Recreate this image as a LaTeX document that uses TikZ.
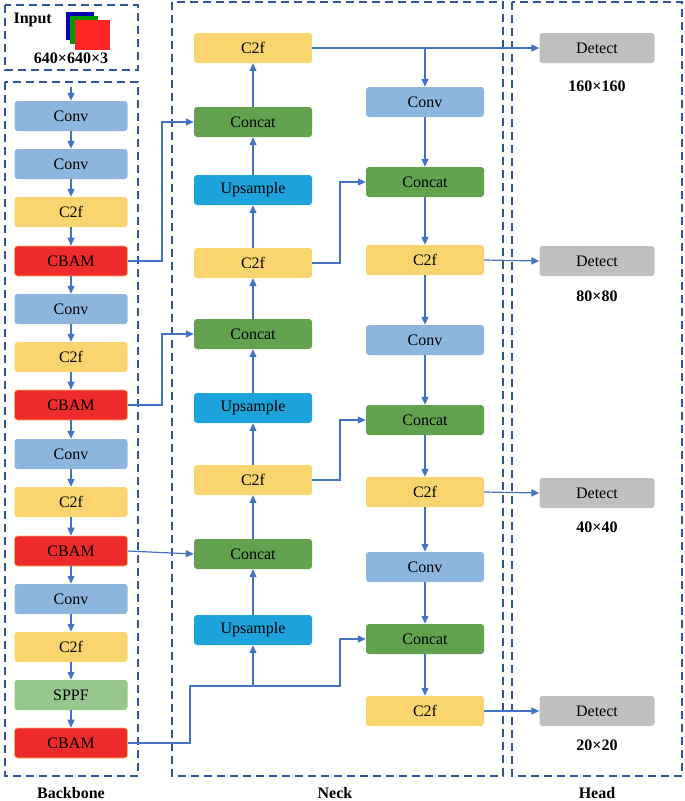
\documentclass[tikz,border=0pt]{standalone}
\usepackage{fontspec}
\setmainfont{Liberation Serif}
\usetikzlibrary{positioning, arrows.meta}
\definecolor{convc}{HTML}{8DB6DE}
\definecolor{c2fc}{HTML}{FAD56F}
\definecolor{cbamc}{HTML}{EE2B2B}
\definecolor{catc}{HTML}{62A24F}
\definecolor{upc}{HTML}{1DA2DC}
\definecolor{sppfc}{HTML}{96C78D}
\definecolor{detc}{HTML}{BFBFBF}
\definecolor{linec}{HTML}{4472C4}
\definecolor{dashc}{HTML}{2F5597}
\tikzset{blk/.style={rounded corners=3pt,minimum height=30pt,inner sep=0pt,font=\fontsize{16}{18}\selectfont},
         bb/.style={blk,minimum width=113pt},
         nk/.style={blk,minimum width=118pt},
         conv/.style={fill=convc},
         ctwof/.style={fill=c2fc},
         cbam/.style={fill=cbamc,draw=orange!60,line width=0.6pt},
         cat/.style={fill=catc},
         ups/.style={fill=upc},
         sppf/.style={fill=sppfc},
         det/.style={blk,fill=detc,minimum width=115pt},
         frame/.style={draw=dashc,dashed,line width=1.6pt,dash pattern=on 8pt off 5pt},
         lab/.style={font=\bfseries\fontsize{16}{18}\selectfont},
         arr/.style={-{Triangle[length=8pt,width=7pt]},draw=linec,line width=1.2pt},
         ln/.style={draw=linec,line width=1.2pt},
        }
\begin{document}
\begin{tikzpicture}[x=1pt,y=-1pt]
        \useasboundingbox (0,0) rectangle (685,801);
        % frames
        \draw[frame](5,5)rectangle(138,70);
        \draw[frame](5,82)rectangle(138,776);
        \draw[frame](172,2)rectangle(503,776);
        \draw[frame](512,2)rectangle(682,776);

        % input
        \node[lab,anchor=west](inlab)at(10,20){Input};
        \fill[blue!70!black](66,12)rectangle(94,40);
        \fill[green!60!black](70,16)rectangle(98,44);
        \fill[red!85](75,20)rectangle(110,50);
        \node[lab](insize)at(71,58){640×640×3};
        \coordinate(top)at(71,87);

        % backbone
        \node[bb,conv](b1)at(71,116){Conv};
        \node[bb,conv](b2)at(71,164){Conv};
        \node[bb,ctwof](b3)at(71,212){C2f};
        \node[bb,cbam](b4)at(71,261){CBAM};
        \node[bb,conv](b5)at(71,309){Conv};
        \node[bb,ctwof](b6)at(71,357){C2f};
        \node[bb,cbam](b7)at(71,405){CBAM};
        \node[bb,conv](b8)at(71,454){Conv};
        \node[bb,ctwof](b9)at(71,502){C2f};
        \node[bb,cbam](b10)at(71,551){CBAM};
        \node[bb,conv](b11)at(71,599){Conv};
        \node[bb,ctwof](b12)at(71,647){C2f};
        \node[bb,sppf](b13)at(71,695){SPPF};
        \node[bb,cbam](b14)at(71,743){CBAM};

        % neck, first column
        \node[nk,ctwof](n1)at(253,48){C2f};
        \node[nk,cat](n2)at(253,122){Concat};
        \node[nk,ups](n3)at(253,190){Upsample};
        \node[nk,ctwof](n4)at(253,263){C2f};
        \node[nk,cat](n5)at(253,334){Concat};
        \node[nk,ups](n6)at(253,408){Upsample};
        \node[nk,ctwof](n7)at(253,480){C2f};
        \node[nk,cat](n8)at(253,554){Concat};
        \node[nk,ups](n9)at(253,630){Upsample};

        % neck, second column
        \node[nk,conv](m1)at(425,102){Conv};
        \node[nk,cat](m2)at(425,182){Concat};
        \node[nk,ctwof](m3)at(425,260){C2f};
        \node[nk,conv](m4)at(425,340){Conv};
        \node[nk,cat](m5)at(425,420){Concat};
        \node[nk,ctwof](m6)at(425,492){C2f};
        \node[nk,conv](m7)at(425,567){Conv};
        \node[nk,cat](m8)at(425,639){Concat};
        \node[nk,ctwof](m9)at(425,711){C2f};

        % head
        \node[det](d1)at(597,48){Detect};
        \node[det](d2)at(597,261){Detect};
        \node[det](d3)at(597,493){Detect};
        \node[det](d4)at(597,711){Detect};
        \node[lab](s1)at(597,86){160×160};
        \node[lab](s2)at(597,296){80×80};
        \node[lab](s3)at(597,527){40×40};
        \node[lab](s4)at(597,745){20×20};

        \node[lab](t1)at(71,793){Backbone};
        \node[lab](t2)at(335,793){Neck};
        \node[lab](t3)at(597,793){Head};

        % backbone chain
        \draw[arr](top)--(b1);
        \foreach \a/\b in {1/2,2/3,3/4,4/5,5/6,6/7,7/8,8/9,9/10,10/11,11/12,12/13,13/14}
            \draw[arr](b\a)--(b\b);

        % neck upward chain
        \foreach \a/\b in {9/8,8/7,7/6,6/5,5/4,4/3,3/2,2/1}
            \draw[arr](n\a)--(n\b);
        % neck downward chain
        \foreach \a/\b in {1/2,2/3,3/4,4/5,5/6,6/7,7/8,8/9}
            \draw[arr](m\a)--(m\b);

        % backbone to neck
        \draw[arr](b4.east)-|(162,122)--(n2.west);
        \draw[arr](b7.east)-|(162,334)--(n5.west);
        \draw[arr](b10.east)--(n8.west);
        \coordinate(j)at(253,686);
        \draw[ln](b14.east)-|(190,686)--(j);
        \draw[arr](j)--(n9.south);
        \draw[arr](j)-|(340,639)--(m8.west);

        % neck crossings
        \draw[arr](n7.east)-|(340,420)--(m5.west);
        \draw[arr](n4.east)-|(340,182)--(m2.west);
        \draw[arr](n1.east)--(d1.west);
        \draw[arr](425,48)--(m1.north);

        % to head
        \draw[arr](m3.east)--(d2.west);
        \draw[arr](m6.east)--(d3.west);
        \draw[arr](m9.east)--(d4.west);
    \end{tikzpicture}
\end{document}
